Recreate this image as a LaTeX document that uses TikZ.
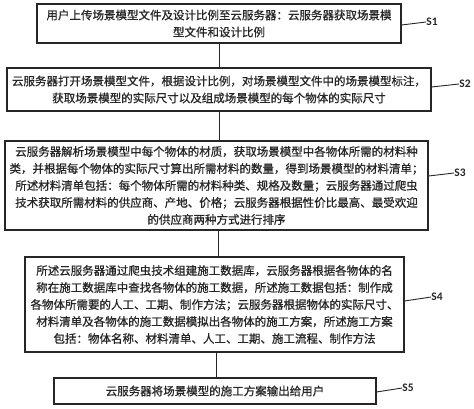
\documentclass[tikz,border=0pt]{standalone}
\usepackage{fontspec}
\newfontfamily\cjk[RawFeature={embolden=0.9}]{Noto Sans CJK SC}
\newfontfamily\labfont{Carlito}
\begin{document}
\begin{tikzpicture}[x=1pt,y=1pt,
  stepbox/.style={draw=black!85, line width=1.1pt, rectangle, inner sep=0pt, align=center,
    font=\cjk\fontsize{11.5}{17}\selectfont, text=black!85},
  conn/.style={draw=black!85, line width=1pt},
  lead/.style={draw=black!85, line width=0.9pt},
  steplabel/.style={font=\labfont\bfseries\fontsize{11.5}{13}\selectfont, text=black!85, inner sep=0pt}]
\useasboundingbox (0,0) rectangle (474,409);
\node[stepbox, minimum width=364, minimum height=39] (b1) at (219,385.5)
  {用户上传场景模型文件及设计比例至云服务器：云服务器获取场景模\\型文件和设计比例};
\node[stepbox, minimum width=424, minimum height=43] (b2) at (219,319.5)
  {云服务器打开场景模型文件，根据设计比例，对场景模型文件中的场景模型标注，\\获取场景模型的实际尺寸以及组成场景模型的每个物体的实际尺寸};
\node[stepbox, minimum width=423, minimum height=89] (b3) at (216.5,223.5)
  {云服务器解析场景模型中每个物体的材质，获取场景模型中各物体所需的材料种\\类，并根据每个物体的实际尺寸算出所需材料的数量，得到场景模型的材料清单；\\所述材料清单包括：每个物体所需的材料种类、规格及数量；云服务器通过爬虫\\技术获取所需材料的供应商、产地、价格；云服务器根据性价比最高、最受欢迎\\的供应商两种方式进行排序};
\node[stepbox, minimum width=379, minimum height=95] (b4) at (214.5,104.5)
  {所述云服务器通过爬虫技术组建施工数据库，云服务器根据各物体的名\\称在施工数据库中查找各物体的施工数据，所述施工数据包括：制作成\\各物体所需要的人工、工期、制作方法；云服务器根据物体的实际尺寸、\\材料清单及各物体的施工数据模拟出各物体的施工方案，所述施工方案\\包括：物体名称、材料清单、人工、工期、施工流程、制作方法};
\node[stepbox, minimum width=322, minimum height=26] (b5) at (215,18)
  {云服务器将场景模型的施工方案输出给用户};
% connectors
\draw[conn] (b1.south) -- (b1.south |- b2.north);
\draw[conn] (b2.south) -- (b2.south |- b3.north);
\draw[conn] (218,0 |- b3.south) coordinate (c3) -- (c3 |- b4.north);
\draw[conn] (216,0 |- b4.south) coordinate (c4) -- (c4 |- b5.north);
% labels
\node[steplabel] (s1) at (432,387) {S1};
\node[steplabel] (s2) at (465,325) {S2};
\node[steplabel] (s3) at (460,236) {S3};
\node[steplabel] (s4) at (437,112) {S4};
\node[steplabel] (s5) at (408,21) {S5};
\draw[lead] (b1.east |- 0,384) -- (s1.west);
\draw[lead] (b2.east |- 0,322) -- (s2.west);
\draw[lead] (b3.east |- 0,233) -- (s3.west);
\draw[lead] (b4.east |- 0,108) -- (s4.west);
\draw[lead] (b5.east |- 0,17) -- (s5.west);
\end{tikzpicture}
\end{document}
